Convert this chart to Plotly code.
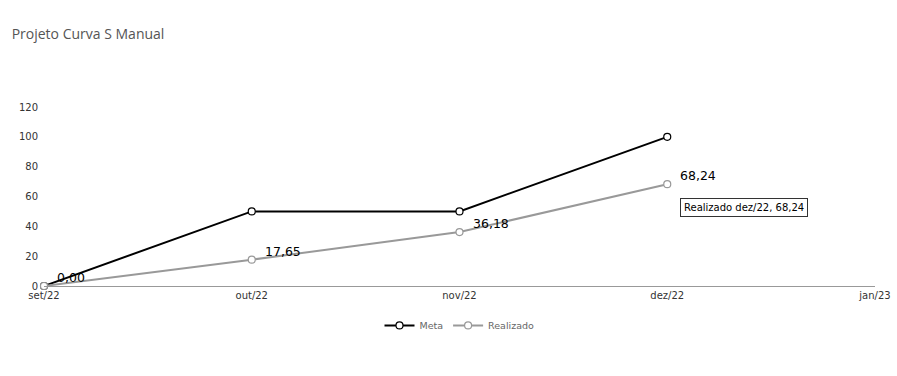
import plotly.graph_objects as go

categories = ["set/22", "out/22", "nov/22", "dez/22", "jan/23"]
meta = [0, 50, 50, 100]
realizado = [0, 17.65, 36.18, 68.24]
yticks = [0, 20, 40, 60, 80, 100, 120]

def fmt(v):
    return f"{v:.2f}".replace(".", ",")

xs_meta = list(range(len(meta)))
xs_real = list(range(len(realizado)))

fig = go.Figure()
fig.add_trace(go.Scatter(
    x=xs_meta, y=meta, name="Meta", mode="lines+markers",
    line=dict(color="#000000", width=2),
    marker=dict(symbol="circle", size=7, color="white", line=dict(color="#000000", width=1.2)),
    cliponaxis=False,
))
fig.add_trace(go.Scatter(
    x=xs_real, y=realizado, name="Realizado", mode="lines+markers",
    line=dict(color="#999999", width=2),
    marker=dict(symbol="circle", size=7, color="white", line=dict(color="#999999", width=1.2)),
    cliponaxis=False,
))

for xi, v in zip(xs_real, realizado):
    fig.add_annotation(
        x=xi, y=v, xref="x", yref="y", text=fmt(v), showarrow=False,
        xanchor="left", yanchor="middle", xshift=11, yshift=8.5,
        font=dict(family="DejaVu Sans", size=12.5, color="#000000"),
    )

last = len(realizado) - 1
fig.add_annotation(
    x=last, y=realizado[last], xref="x", yref="y",
    text=f"Realizado {categories[last]}, {fmt(realizado[last])}",
    showarrow=False, xanchor="left", yanchor="top", xshift=13, yshift=-14,
    font=dict(family="DejaVu Sans", size=10, color="#000000"),
    bgcolor="white", bordercolor="#333333", borderwidth=1, borderpad=3,
)

fig.update_layout(
    width=897, height=376,
    margin=dict(l=44, r=22, t=107, b=90),
    paper_bgcolor="white", plot_bgcolor="white",
    title=dict(text="Projeto Curva S Manual", x=0.013, xanchor="left", y=0.91, yanchor="middle",
               font=dict(family="Open Sans", size=14, color="#555555")),
    showlegend=True,
    legend=dict(orientation="h", x=0.5, xanchor="center", y=-0.22, yanchor="middle",
                itemwidth=30, tracegroupgap=0,
                font=dict(family="DejaVu Sans", size=9.5, color="#666666")),
    xaxis=dict(range=[0, 4.0], tickvals=list(range(len(categories))), ticktext=categories,
               automargin=False,
               showgrid=False, zeroline=False, showline=True, linecolor="#999999", linewidth=1,
               ticks="", tickfont=dict(family="DejaVu Sans", size=10, color="#333333")),
    yaxis=dict(range=[0, 120], tickvals=yticks, showgrid=False, zeroline=False, showline=False,
               ticks="", ticklabelstandoff=5, automargin=False,
               tickfont=dict(family="DejaVu Sans", size=10, color="#333333")),
)

fig.write_html("out.html")
